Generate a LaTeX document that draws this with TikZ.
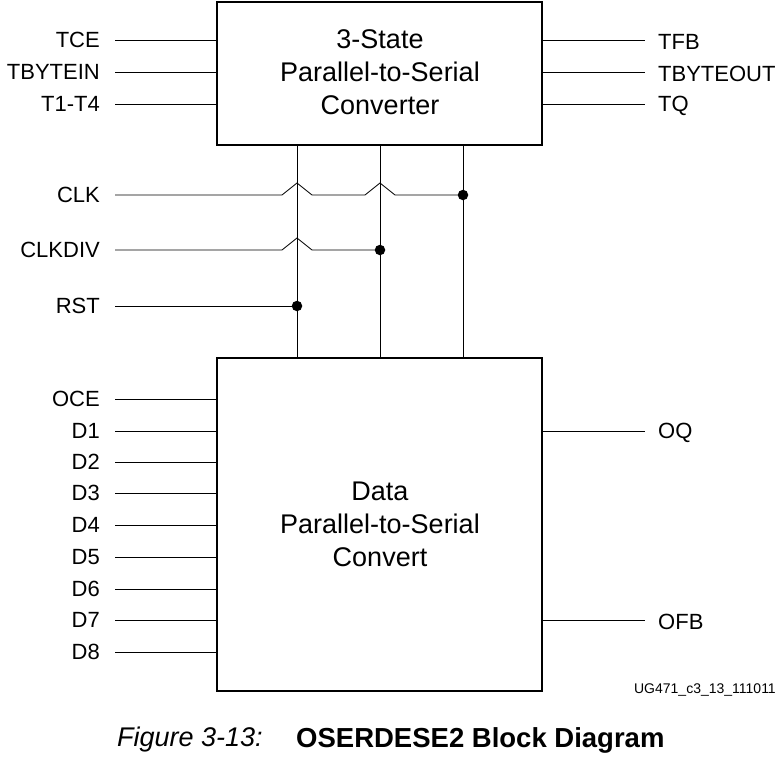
\documentclass[tikz,border=0pt]{standalone}
\usepackage{fontspec}
\setmainfont{Liberation Sans}
\begin{document}
\begin{tikzpicture}[x=1pt,y=-1pt,
  wire/.style={line width=0.8pt},
  box/.style={draw,line width=2.2pt},
  lab/.style={font=\fontsize{22}{22}\selectfont,inner sep=0pt},
  btxt/.style={font=\fontsize{27}{33}\selectfont,align=center,inner sep=0pt},
  dot/.style={circle,fill,inner sep=0pt,minimum size=10.5pt}]
\useasboundingbox (0,0) rectangle (782,764);
\draw[box] (217,2) rectangle (542,145);
\draw[box] (217,358) rectangle (542,691);
\node[btxt] (tb) at (380,72) {3-State\\Parallel-to-Serial\\Converter};
\node[btxt] (db) at (380,524) {Data\\Parallel-to-Serial\\Convert};
\foreach \n/\y in {TCE/40,TBYTEIN/72,T1-T4/104}{
  \node[lab,anchor=east] (\n) at (100,\y) {\n};
  \draw[wire] (115,\y) -- (217,\y);}
\foreach \n/\y in {TFB/40,TBYTEOUT/72,TQ/104}{
  \node[lab,anchor=west] (\n) at (658,\y+1.5) {\n};
  \draw[wire] (542,\y) -- (645,\y);}
\foreach \n/\y in {OCE/399,D1/431,D2/462,D3/493,D4/525,D5/557,D6/589,D7/620,D8/652}{
  \node[lab,anchor=east] (\n) at (100,\y) {\n};
  \draw[wire] (115,\y) -- (217,\y);}
\foreach \n/\y in {OQ/431,OFB/620}{
  \node[lab,anchor=west] (\n) at (658,\y+1.5) {\n};
  \draw[wire] (542,\y) -- (645,\y);}
\foreach \x in {297,380,463}{\draw[wire] (\x,145) -- (\x,358);}
\node[lab,anchor=east] (clk) at (100,195) {CLK};
\node[lab,anchor=east] (clkdiv) at (100,250) {CLKDIV};
\node[lab,anchor=east] (rst) at (100,306) {RST};
\draw[wire] (115,195) -- (282,195) -- (297,183) -- (312,195) -- (365,195) -- (380,183) -- (395,195) -- (463,195);
\draw[wire] (115,250) -- (282,250) -- (297,238) -- (312,250) -- (380,250);
\draw[wire] (115,306) -- (297,306);
\node[dot] (d1) at (463,195) {};
\node[dot] (d2) at (380,250) {};
\node[dot] (d3) at (297,306) {};
\node[font=\fontsize{14}{14}\selectfont,anchor=east,inner sep=0pt] (ug) at (776,690) {UG471\_c3\_13\_111011};
\node[font=\fontsize{27}{27}\selectfont\itshape,anchor=west,inner sep=0pt] (fig) at (117,740) {Figure 3-13:};
\node[font=\fontsize{27.5}{27.5}\selectfont\bfseries,anchor=west,inner sep=0pt] (cap) at (296,740) {OSERDESE2 Block Diagram};
\end{tikzpicture}
\end{document}
